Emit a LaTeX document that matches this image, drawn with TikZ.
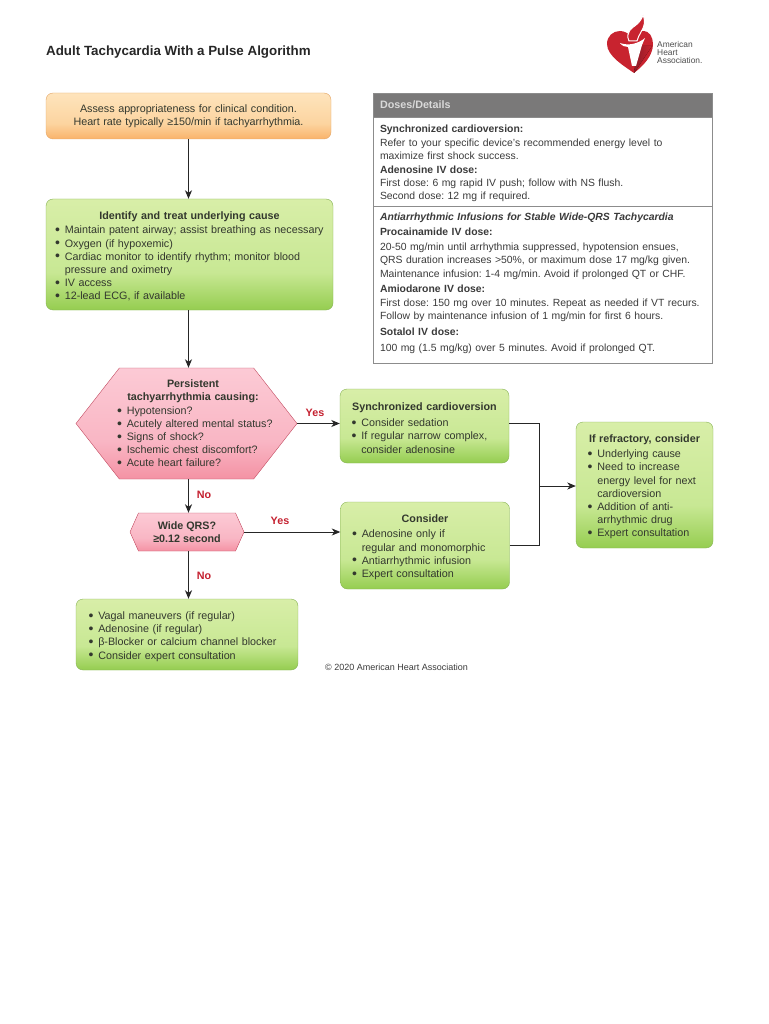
\documentclass[tikz,border=0pt]{standalone}
\usepackage{fontspec}
\setmainfont{Liberation Sans}
\usetikzlibrary{shapes.symbols}
\usetikzlibrary{arrows.meta}
\definecolor{boxink}{HTML}{33382E}
\definecolor{noteink}{HTML}{3A3A3A}
\definecolor{answerred}{HTML}{C4202F}
\definecolor{greenedge}{HTML}{86B254}
\definecolor{orangeedge}{HTML}{E3A566}
\definecolor{pinkedge}{HTML}{C24A60}
\definecolor{tableedge}{HTML}{8C8C8C}
\definecolor{tablehead}{HTML}{7A7979}
\definecolor{heartred}{HTML}{C8232F}
\definecolor{heartdark}{HTML}{8E1C28}
\definecolor{greenlow}{HTML}{95CD50}
\definecolor{greenmid}{HTML}{C8E894}
\definecolor{greenhigh}{HTML}{D8EEA8}
\definecolor{orangelow}{HTML}{F9B36A}
\definecolor{orangemid}{HTML}{FCD4A0}
\definecolor{orangehigh}{HTML}{FEE4BC}
\definecolor{pinklow}{HTML}{F492A4}
\definecolor{pinkmid}{HTML}{F9B6C4}
\definecolor{pinkhigh}{HTML}{FCCAD5}
\pgfdeclareverticalshading{greenfade}{100bp}{color(0bp)=(greenlow);
    color(25bp)=(greenlow); color(42bp)=(greenmid);
    color(75bp)=(greenhigh); color(100bp)=(greenhigh)}
\pgfdeclareverticalshading{orangefade}{100bp}{color(0bp)=(orangelow);
    color(25bp)=(orangelow); color(42bp)=(orangemid);
    color(75bp)=(orangehigh); color(100bp)=(orangehigh)}
\pgfdeclareverticalshading{pinkfade}{100bp}{color(0bp)=(pinklow);
    color(25bp)=(pinklow); color(42bp)=(pinkmid);
    color(75bp)=(pinkhigh); color(100bp)=(pinkhigh)}
\newcommand{\bitem}{\makebox[9.8pt][l]{\raisebox{-0.6pt}{\fontsize{14}{13}\selectfont\textbullet}}}
\newcommand{\citem}{\hspace*{9.8pt}}
\newcommand{\boxhead}[1]{\makebox[\linewidth][c]{\rule{0pt}{11.5pt}\textbf{#1}}}
\frenchspacing

\begin{document}
\begin{tikzpicture}[x=1pt,y=-1pt,
    >={Stealth[length=8.5pt,width=7pt,inset=2.5pt]},
    basebox/.style={rounded corners=7pt,inner ysep=0pt,align=left,text=boxink,
        font=\fontsize{10.75}{13.2}\selectfont},
    greenbox/.style={basebox,draw=greenedge,shading=greenfade},
    orangebox/.style={basebox,draw=orangeedge,shading=orangefade},
    flowline/.style={draw=black!85,line width=0.9pt},
    heavyline/.style={draw=black!85,line width=1.4pt},
    answer/.style={text=answerred,font=\fontsize{10.75}{12}\selectfont\bfseries},
    hexbox/.style={signal,signal to=east and west,draw=pinkedge,shading=pinkfade,inner sep=0pt},
    hextext/.style={align=left,text=boxink,inner sep=0pt,font=\fontsize{10.75}{13.1}\selectfont},
    tablecell/.style={draw=tableedge,line width=0.8pt,align=left,inner ysep=0pt,inner xsep=7pt,
        text width=325pt,text=noteink,font=\fontsize{10.4}{13.4}\selectfont}
]
\useasboundingbox (0,0) rectangle (768,1024);

\node[anchor=west,inner sep=0pt,text=black!85,font=\fontsize{13.35}{16}\selectfont\bfseries] (title) at (46,52.5) {Adult Tachycardia With a Pulse Algorithm};

\fill[heartred] (634,73) .. controls (624,66) and (607,56) .. (607,44)
    .. controls (607,36) and (613,31) .. (620,31)
    .. controls (625,31) and (629,34) .. (632,37)
    .. controls (635,33) and (640,31) .. (644,31)
    .. controls (649,31) and (653,37) .. (653,44)
    .. controls (653,56) and (643,66) .. (634,73) -- cycle;
\fill[left color=heartdark,right color=heartred] (638,46) -- (652,46) -- (634,73) -- cycle;
\fill[white] (620,43) .. controls (628,46) and (638,44) .. (645,38)
    -- (642,45) -- (636,66) -- (632,66) -- (628,47)
    .. controls (625,47) and (622,46) .. (620,43) -- cycle;
\fill[heartred,draw=white,line width=1pt] (629,41) .. controls (625,32) and (632,28) .. (636,25)
    .. controls (640,22) and (642,18) .. (643,15)
    .. controls (646,22) and (644,27) .. (641,32)
    .. controls (639,35) and (638,38) .. (637,41) -- cycle;
\node[anchor=north west,inner sep=0pt,align=left,text=black!70,font=\fontsize{8.4}{8.1}\selectfont] (brandname) at (657,41) {American\\Heart\\Association.};

\node[orangebox,text width=285pt,align=center,minimum height=46pt,inner xsep=0pt] (assess) at (188.5,116) {Assess appropriateness for clinical condition.\\Heart rate typically ≥150/min if tachyarrhythmia.};

\node[greenbox,text width=269pt,inner xsep=9pt,minimum height=111pt] (identify) at (189.5,254.5) {\boxhead{Identify and treat underlying cause}\\[1.5pt]
    \bitem Maintain patent airway; assist breathing as necessary\\
    \bitem Oxygen (if hypoxemic)\\
    \bitem Cardiac monitor to identify rhythm; monitor blood\\
    \citem pressure and oximetry\\
    \bitem IV access\\
    \bitem 12-lead ECG, if available};

\node[hexbox,minimum width=221pt,minimum height=111pt,signal pointer angle=104] (persistent) at (186.5,423.5) {};
\node[hextext,text width=170pt] (persistenttext) at (202,423.5) {\hspace*{-9pt}\makebox[170pt][c]{\textbf{Persistent}}\\
    \hspace*{-9pt}\makebox[170pt][c]{\textbf{tachyarrhythmia causing:}}\\[1pt]
    \bitem Hypotension?\\
    \bitem Acutely altered mental status?\\
    \bitem Signs of shock?\\
    \bitem Ischemic chest discomfort?\\
    \bitem Acute heart failure?};

\node[hexbox,minimum width=114pt,minimum height=38pt,signal pointer angle=132] (wideqrs) at (187,532) {};
\node[hextext,align=center,font=\fontsize{10.75}{13.1}\selectfont\bfseries] (wideqrstext) at (187,532) {Wide QRS?\\≥0.12 second};

\node[greenbox,text width=197pt,inner xsep=12.5pt,minimum height=71pt] (vagal) at (187,634.5) {\rule{0pt}{12pt}\bitem Vagal maneuvers (if regular)\\
    \bitem Adenosine (if regular)\\
    \bitem β-Blocker or calcium channel blocker\\
    \bitem Consider expert consultation};

\node[greenbox,text width=146pt,inner xsep=11.5pt,minimum height=74pt] (cardioversion) at (424.5,426) {\boxhead{Synchronized cardioversion}\\[3pt]
    \bitem Consider sedation\\
    \bitem If regular narrow complex,\\
    \citem consider adenosine};

\node[greenbox,text width=146pt,inner xsep=11.5pt,minimum height=87pt] (consider) at (425,545.5) {\boxhead{Consider}\\[2pt]
    \bitem Adenosine only if\\
    \citem regular and monomorphic\\
    \bitem Antiarrhythmic infusion\\
    \bitem Expert consultation};

\node[greenbox,text width=114pt,inner xsep=11.5pt,minimum height=126pt] (refractory) at (644.5,485) {\boxhead{If refractory, consider}\\[2pt]
    \bitem Underlying cause\\
    \bitem Need to increase\\
    \citem energy level for next\\
    \citem cardioversion\\
    \bitem Addition of anti-\\
    \citem arrhythmic drug\\
    \bitem Expert consultation};

\coordinate (junction) at (539,486);

\draw[flowline,->] (assess.south) -- (assess.south |- identify.north);
\draw[flowline,->] (assess.south |- identify.south) -- (assess.south |- persistent.north);
\draw[heavyline,->] (assess.south |- persistent.south) -- (assess.south |- wideqrs.north);
\draw[heavyline,->] (assess.south |- wideqrs.south) -- (assess.south |- vagal.north);
\draw[flowline,->] (persistent.east) -- (persistent.east -| cardioversion.west);
\draw[flowline,->] (wideqrs.east) -- (wideqrs.east -| consider.west);
\draw[flowline] (persistent.east -| cardioversion.east) -| (junction);
\draw[flowline] (consider.east) -| (junction);
\draw[flowline,->] (junction) -- (junction -| refractory.west);

\node[answer] (yesone) at (315,413) {Yes};
\node[answer] (noone) at (204,494.5) {No};
\node[answer] (yestwo) at (280,521) {Yes};
\node[answer] (notwo) at (204,576) {No};

\node[draw=tableedge,line width=0.8pt,fill=tablehead,text=white!85!black,minimum width=339pt,minimum height=24pt,text width=325pt,inner xsep=7pt,inner ysep=0pt,font=\fontsize{10.75}{12}\selectfont\bfseries] (doseshead) at (542.5,105) {Doses/Details};

\node[tablecell,minimum height=89pt] (dosesone) at (542.5,161.5) {\rule{0pt}{12pt}\textbf{Synchronized cardioversion:}\\
    Refer to your specific device's recommended energy level to\\
    maximize first shock success.\\
    \textbf{Adenosine IV dose:}\\
    First dose: 6 mg rapid IV push; follow with NS flush.\\
    Second dose: 12 mg if required.};

\node[tablecell,minimum height=157pt] (dosestwo) at (542.5,284.5) {\textbf{\textit{Antiarrhythmic Infusions for Stable Wide-QRS Tachycardia}}\\[1.6pt]
    \textbf{Procainamide IV dose:}\\[1.6pt]
    20-50 mg/min until arrhythmia suppressed, hypotension ensues,\\
    QRS duration increases >50\%, or maximum dose 17 mg/kg given.\\
    Maintenance infusion: 1-4 mg/min. Avoid if prolonged QT or CHF.\\[2pt]
    \textbf{Amiodarone IV dose:}\\
    First dose: 150 mg over 10 minutes. Repeat as needed if VT recurs.\\
    Follow by maintenance infusion of 1 mg/min for first 6 hours.\\[2.4pt]
    \textbf{Sotalol IV dose:}\\[2.4pt]
    \rule[-5pt]{0pt}{5pt}100 mg (1.5 mg/kg) over 5 minutes. Avoid if prolonged QT.};

\node[anchor=west,inner sep=0pt,text=noteink,font=\fontsize{9}{10}\selectfont] (copyright) at (325,667) {© 2020 American Heart Association};

\end{tikzpicture}
\end{document}
